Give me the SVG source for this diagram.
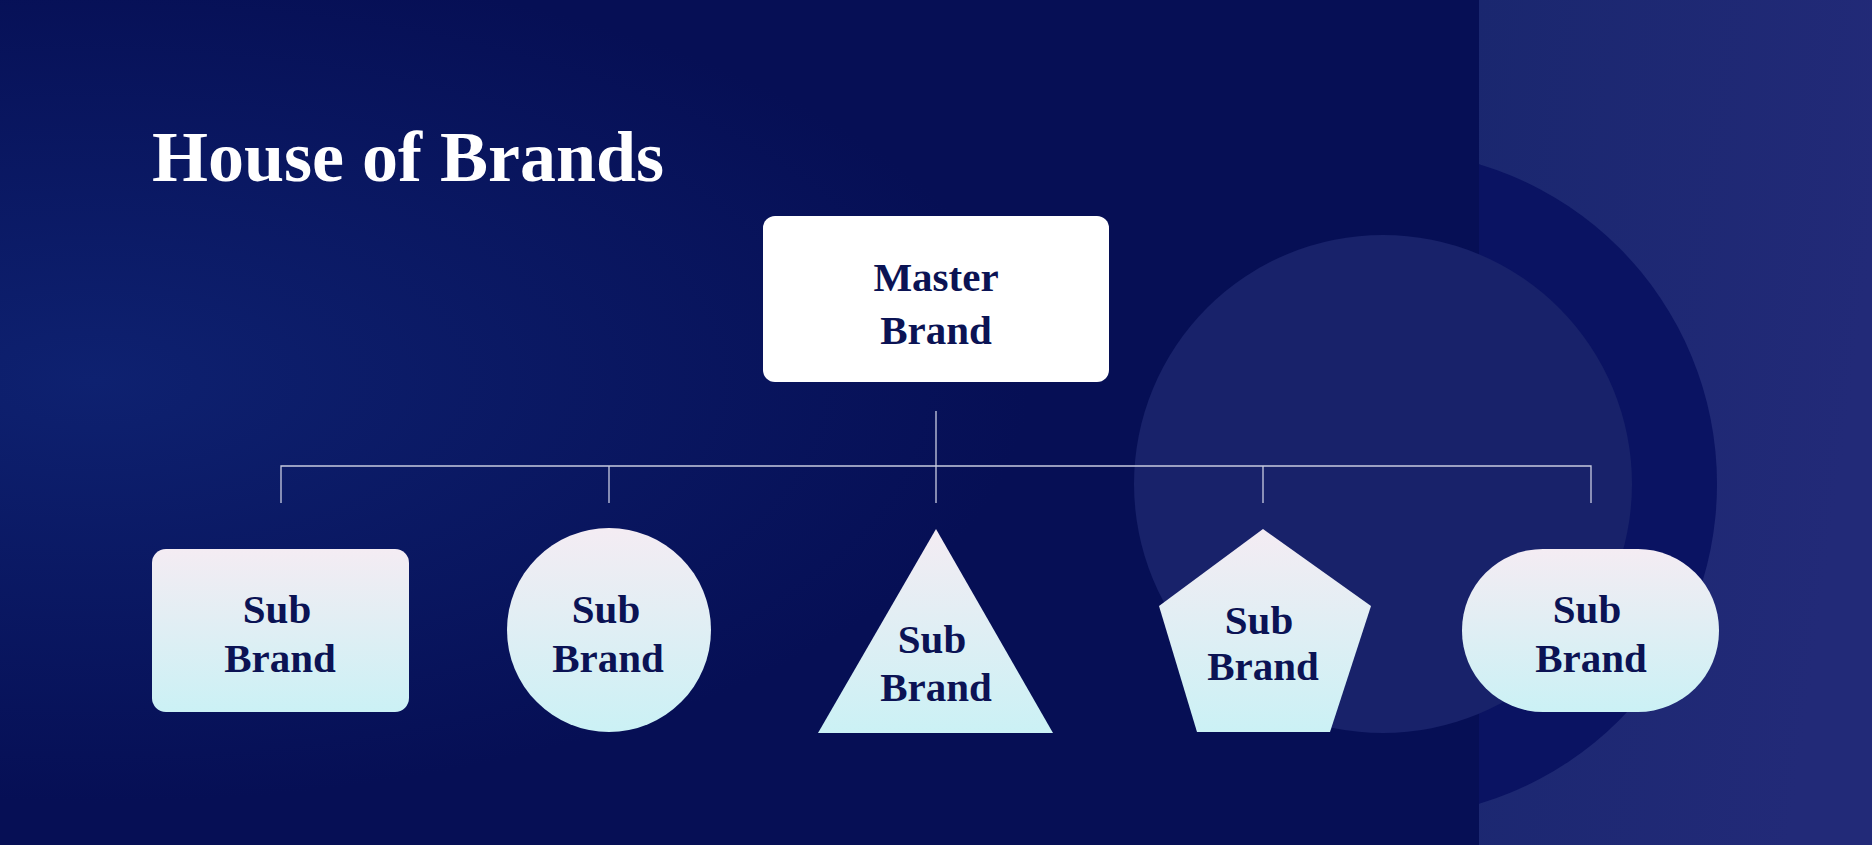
<svg xmlns="http://www.w3.org/2000/svg" width="1872" height="845" viewBox="0 0 1872 845">
<defs>
<radialGradient id="bgl" cx="0.05" cy="0.45" r="0.5"><stop offset="0" stop-color="#0e2170"/><stop offset="1" stop-color="#060f55"/></radialGradient>
<linearGradient id="rp" x1="0" y1="0" x2="1" y2="0.3"><stop offset="0" stop-color="#1a276f"/><stop offset="1" stop-color="#222a78"/></linearGradient>
<linearGradient id="sf" x1="0" y1="0" x2="0" y2="1"><stop offset="0" stop-color="#f4ecf3"/><stop offset="1" stop-color="#cbf1f5"/></linearGradient>
<clipPath id="rc"><rect x="1479" y="0" width="393" height="845"/></clipPath>
</defs>
<style>
.t{font-family:"Liberation Serif","DejaVu Serif",serif;font-weight:bold;fill:#0b1354;text-anchor:middle;font-size:41px}
.s{fill:url(#sf)}
.c{stroke:#c8cce0;stroke-width:1.3;fill:none}
</style>
<rect width="1872" height="845" fill="url(#bgl)"/>
<rect x="1479" y="0" width="393" height="845" fill="url(#rp)"/>
<circle cx="1383" cy="484" r="334" fill="#0a1362" clip-path="url(#rc)"/>
<circle cx="1383" cy="484" r="249" fill="#18226a"/>
<text x="152" y="181" font-family="'Liberation Serif','DejaVu Serif',serif" font-weight="bold" font-size="72" fill="#ffffff">House of Brands</text>
<g id="connectors" class="c">
<path d="M936 411V503M281 503V466H1591V503M609 466V503M1263 466V503"/>
</g>
<g id="master"><rect x="763" y="216" width="346" height="166" rx="12" fill="#ffffff"/>
<text class="t" x="936" y="291" font-size="45">Master</text><text class="t" x="936" y="344" font-size="45">Brand</text></g>
<g id="sub1"><rect class="s" x="152" y="549" width="257" height="163" rx="14"/>
<text class="t" x="277" y="623">Sub</text><text class="t" x="280" y="672">Brand</text></g>
<g id="sub2"><circle class="s" cx="609" cy="630" r="102"/>
<text class="t" x="606" y="623">Sub</text><text class="t" x="608" y="672">Brand</text></g>
<g id="sub3"><polygon class="s" points="936,529 1053,733 818,733"/>
<text class="t" x="932" y="653">Sub</text><text class="t" x="936" y="701">Brand</text></g>
<g id="sub4"><polygon class="s" points="1263,529 1371,606 1330,732 1197,732 1159,606"/>
<text class="t" x="1259" y="634">Sub</text><text class="t" x="1263" y="680">Brand</text></g>
<g id="sub5"><rect class="s" x="1462" y="549" width="257" height="163" rx="81"/>
<text class="t" x="1587" y="623">Sub</text><text class="t" x="1591" y="672">Brand</text></g>
</svg>
